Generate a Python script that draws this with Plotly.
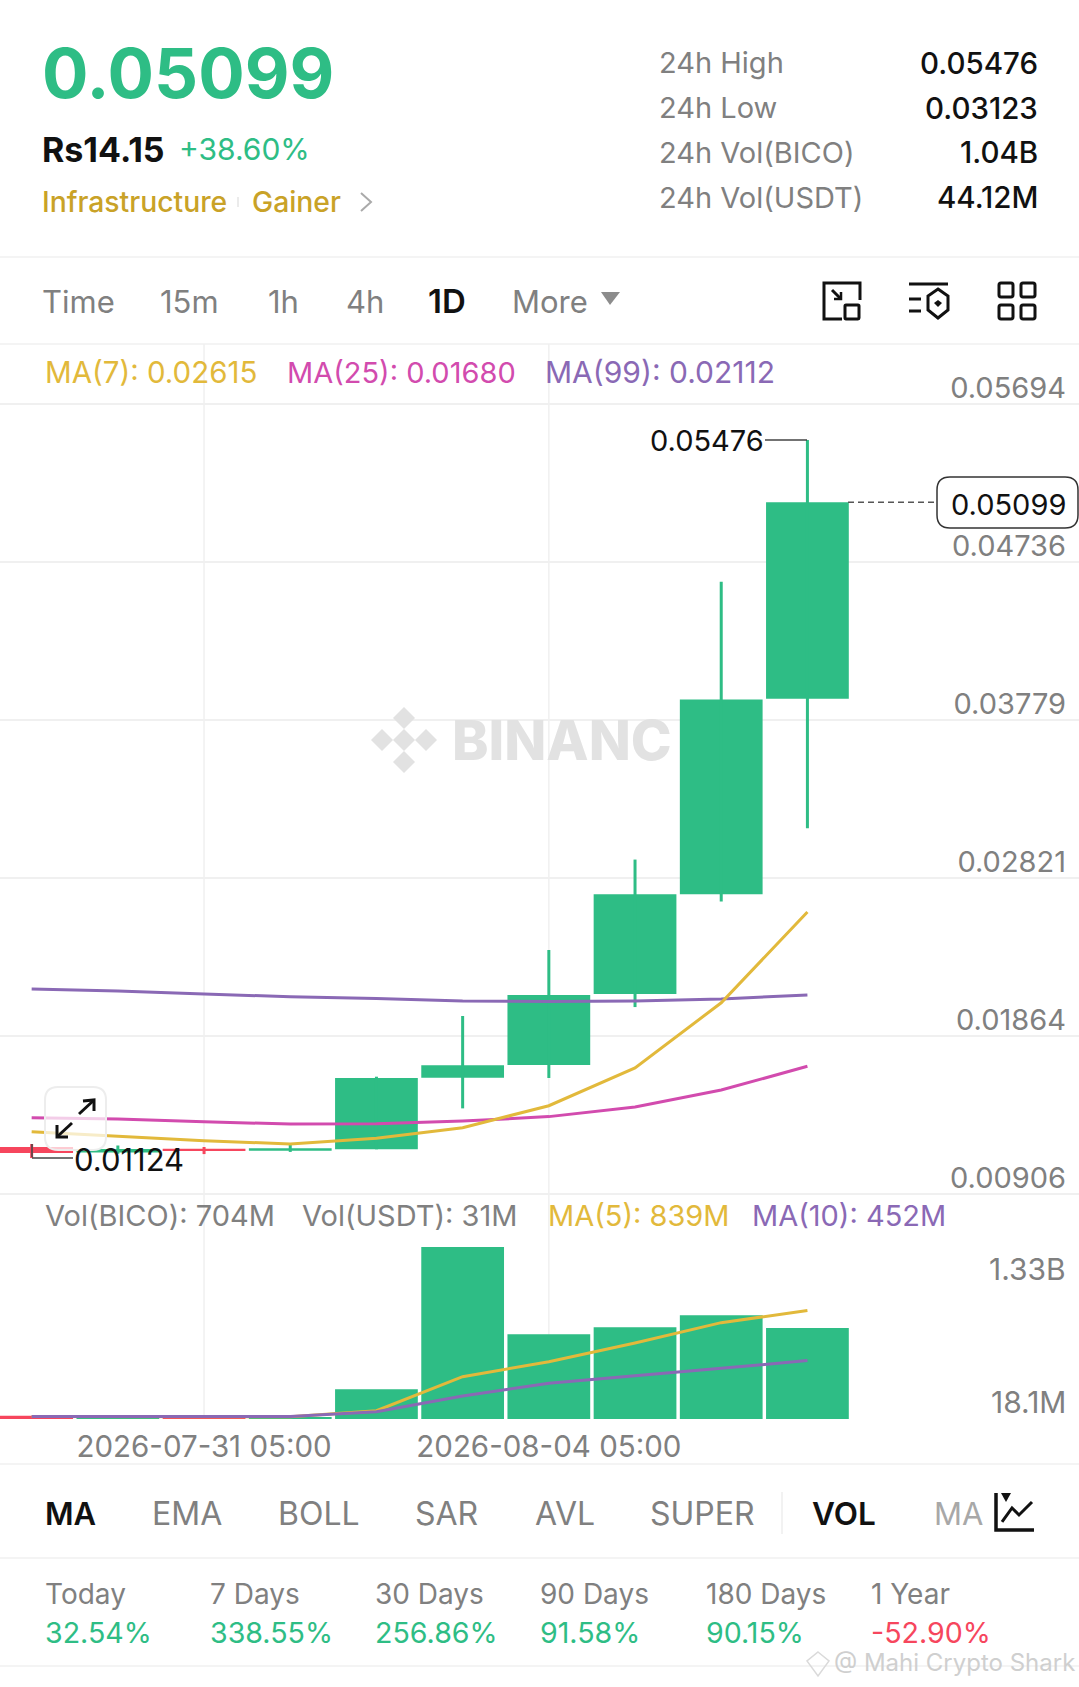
import plotly.graph_objects as go

W, H = 1079, 1687
FONT = "Inter"

GREEN = "#2EBD85"
RED = "#F6465D"
YELLOW = "#E2B93B"
PINK = "#D24BAE"
PURPLE = "#8A69B5"
GRAY = "#808080"
GRID = "#F0F0F0"
BLACK = "#111111"

# candle data
dates = ["2026-07-29 05:00", "2026-07-30 05:00", "2026-07-31 05:00", "2026-08-01 05:00",
         "2026-08-02 05:00", "2026-08-03 05:00", "2026-08-04 05:00", "2026-08-05 05:00",
         "2026-08-06 05:00", "2026-08-07 05:00"]
opens = [0.01191, 0.01157, 0.01180, 0.01168, 0.01177, 0.01611, 0.01688, 0.02118, 0.02723, 0.03908]
highs = [0.01209, 0.01200, 0.01191, 0.01203, 0.01617, 0.01985, 0.02385, 0.02933, 0.04617, 0.05476]
lows = [0.01124, 0.01150, 0.01148, 0.01161, 0.01177, 0.01425, 0.01609, 0.02039, 0.02679, 0.03123]
closes = [0.01155, 0.01179, 0.01168, 0.01183, 0.01609, 0.01686, 0.02112, 0.02723, 0.03904, 0.05099]

ma7 = [0.01284, 0.01258, 0.01229, 0.01209, 0.01244, 0.01308, 0.01441, 0.01670, 0.02065, 0.02615]
ma25 = [0.01368, 0.01361, 0.01344, 0.01330, 0.01332, 0.01348, 0.01375, 0.01433, 0.01536, 0.01680]
ma99 = [0.02148, 0.02136, 0.02118, 0.02102, 0.02091, 0.02076, 0.02073, 0.02076, 0.02088, 0.02112]

volumes = [25e6, 18e6, 10e6, 8e6, 230e6, 1330e6, 655e6, 709e6, 802e6, 704e6]
vol_ma5 = [20e6, 20e6, 18e6, 18e6, 64e6, 327e6, 443e6, 588e6, 745e6, 839e6]
vol_ma10 = [20e6, 20e6, 20e6, 20e6, 56e6, 178e6, 276e6, 332e6, 392e6, 452e6]

price_ticks = [0.00906, 0.01864, 0.02821, 0.03779, 0.04736, 0.05694]
price_labels = ["0.00906", "0.01864", "0.02821", "0.03779", "0.04736", "0.05694"]
date_ticks = ["2026-07-31 05:00", "2026-08-04 05:00"]

stats = [("24h High", "0.05476"), ("24h Low", "0.03123"),
         ("24h Vol(BICO)", "1.04B"), ("24h Vol(USDT)", "44.12M")]
periods = ["Today", "7 Days", "30 Days", "90 Days", "180 Days", "1 Year"]
period_changes = ["32.54%", "338.55%", "256.86%", "91.58%", "90.15%", "-52.90%"]


def px(x):
    return x / W


def py(y):
    return 1 - y / H


candle_colors = [GREEN if c >= o else RED for o, c in zip(opens, closes)]
body_base = [min(o, c) for o, c in zip(opens, closes)]
body_size = [abs(c - o) for o, c in zip(opens, closes)]
day_ms = 86400000

fig = go.Figure()

# wicks first, bodies on top, moving averages over both
for d, lo, hi, color in zip(dates, lows, highs, candle_colors):
    fig.add_trace(go.Scatter(x=[d, d], y=[lo, hi], mode="lines", yaxis="y", xaxis="x",
                             line=dict(color=color, width=3), showlegend=False))
fig.add_trace(go.Bar(x=dates, y=body_size, base=body_base, width=day_ms * 0.96, yaxis="y", xaxis="x",
                     marker=dict(color=candle_colors, line=dict(width=0)), showlegend=False))
for vals, color in [(ma99, PURPLE), (ma25, PINK), (ma7, YELLOW)]:
    fig.add_trace(go.Scatter(x=dates, y=vals, mode="lines", yaxis="y", xaxis="x",
                             line=dict(color=color, width=3), showlegend=False))

fig.add_trace(go.Bar(x=dates, y=volumes, marker=dict(color=candle_colors, line=dict(width=0)),
                     width=day_ms * 0.96, yaxis="y2", xaxis="x", showlegend=False))
for vals, color in [(vol_ma5, YELLOW), (vol_ma10, PURPLE)]:
    fig.add_trace(go.Scatter(x=dates, y=vals, mode="lines", yaxis="y2", xaxis="x",
                             line=dict(color=color, width=3), showlegend=False))

annotations = []


def text(x, y, s, size=28, color=GRAY, anchor="left", weight=400):
    # annotation boxes carry a little padding, pull it back out
    x = x - 2.5 if anchor == "left" else x + 2.5
    annotations.append(dict(x=px(x), y=py(y), xref="paper", yref="paper", text=s, showarrow=False,
                            xanchor=anchor, yanchor="middle", align=anchor,
                            font=dict(family=FONT, size=size, color=color, weight=weight)))


# header
text(42, 73, "0.05099", 69, GREEN, weight=700)
text(42, 149, "Rs14.15", 34, BLACK, weight=700)
text(179, 149, "+38.60%", 30, GREEN)
text(42, 202, "Infrastructure", 28.3, "#C9A227", weight=500)
text(252, 202, "Gainer", 28.3, "#C9A227", weight=500)
for (label, value), y in zip(stats, [63, 108, 152, 197]):
    text(659, y, label, 29, GRAY)
    text(1037, y, value, 29.5, BLACK, anchor="right", weight=500)

# interval tabs
for label, x in [("Time", 42), ("15m", 160), ("1h", 268), ("4h", 346), ("More", 512)]:
    text(x, 301, label, 31, GRAY)
text(428, 301, "1D", 33, BLACK, weight=600)

# indicator read-outs
text(45, 372, "MA(7): 0.02615", 29.5, YELLOW)
text(287, 372, "MA(25): 0.01680", 29, PINK)
text(545, 372, "MA(99): 0.02112", 30, PURPLE)
text(45, 1215, "Vol(BICO): 704M", 29, GRAY)
text(302, 1215, "Vol(USDT): 31M", 29, GRAY)
text(548, 1215, "MA(5): 839M", 29, YELLOW)
text(752, 1215, "MA(10): 452M", 29, PURPLE)

# chart labels
text(763, 441, "0.05476", 29, BLACK, anchor="right")
text(74, 1159, "0.01124", 31, BLACK)
text(1065, 504, "0.05099", 29, BLACK, anchor="right")
text(1065, 1269, "1.33B", 30, GRAY, anchor="right")
text(1065, 1402, "18.1M", 30, GRAY, anchor="right")
text(452, 740, "BINANC", 55, "#E2E2E2", weight=800)

# indicator tabs
text(45, 1513, "MA", 31, BLACK, weight=600)
for label, x in [("EMA", 152), ("BOLL", 278), ("SAR", 415), ("AVL", 535), ("SUPER", 650)]:
    text(x, 1513, label, 32, GRAY)
text(812, 1513, "VOL", 31.5, BLACK, weight=600)
text(934, 1513, "MA", 31, "#A8A8A8")

# period changes
for label, value, x in zip(periods, period_changes, [45, 210, 375, 540, 706, 871]):
    text(x, 1594, label, 28, GRAY)
    text(x, 1632, value, 28.6, RED if value.startswith("-") else GREEN)

text(834, 1662, "@ Mahi Crypto Shark", 24, "#CFCFCF")

shapes = []


def hline(y, color=GRID, x0=0, x1=W, width=1.5):
    shapes.append(dict(type="line", xref="paper", yref="paper", x0=px(x0), x1=px(x1),
                       y0=py(y), y1=py(y), line=dict(color=color, width=width), layer="below"))


def path(points, color=None, fill=None, width=3, close=False, layer="above"):
    d = "M " + " L ".join(f"{px(x):.5f},{py(y):.5f}" for x, y in points) + (" Z" if close else "")
    shapes.append(dict(type="path", path=d, xref="paper", yref="paper", layer=layer,
                       line=dict(color=color or "rgba(0,0,0,0)", width=width if color else 0),
                       fillcolor=fill or "rgba(0,0,0,0)"))


def rrect(x0, y0, x1, y1, r, color, fill="rgba(0,0,0,0)", width=2):
    fx = lambda v: f"{px(v):.5f}"
    fy = lambda v: f"{py(v):.5f}"
    d = (f"M {fx(x0 + r)},{fy(y0)} L {fx(x1 - r)},{fy(y0)} Q {fx(x1)},{fy(y0)} {fx(x1)},{fy(y0 + r)} "
         f"L {fx(x1)},{fy(y1 - r)} Q {fx(x1)},{fy(y1)} {fx(x1 - r)},{fy(y1)} "
         f"L {fx(x0 + r)},{fy(y1)} Q {fx(x0)},{fy(y1)} {fx(x0)},{fy(y1 - r)} "
         f"L {fx(x0)},{fy(y0 + r)} Q {fx(x0)},{fy(y0)} {fx(x0 + r)},{fy(y0)} Z")
    shapes.append(dict(type="path", path=d, xref="paper", yref="paper", layer="above",
                       line=dict(color=color, width=width), fillcolor=fill))


# section rules
for y in [257, 344, 1464, 1558, 1666]:
    hline(y)
shapes.append(dict(type="line", xref="paper", yref="paper", x0=px(782), x1=px(782),
                   y0=py(1492), y1=py(1534), line=dict(color="#EEEEEE", width=1.5)))

# vertical grid through price and volume panes
for d in date_ticks:
    shapes.append(dict(type="line", xref="x", yref="paper", x0=d, x1=d, y0=py(344), y1=py(1419),
                       line=dict(color=GRID, width=1.5), layer="below"))

# price call-outs
shapes.append(dict(type="line", xref="paper", yref="y", x0=px(765), x1=px(807), y0=0.05476, y1=0.05476,
                   line=dict(color="#444444", width=1.5)))
shapes.append(dict(type="line", xref="paper", yref="y", x0=px(32), x1=px(73), y0=0.01124, y1=0.01124,
                   line=dict(color="#444444", width=1.5)))
shapes.append(dict(type="line", xref="paper", yref="y", x0=px(848), x1=px(936), y0=0.05099, y1=0.05099,
                   line=dict(color="#555555", width=1.5, dash="6px,4px")))
rrect(937, 477, 1078, 528, 13, "#333333", "#FFFFFF", 1.5)

# chevron and dropdown triangle
path([(361, 193), (371, 202), (361, 211)], "#AAAAAA", width=2)
path([(601, 292), (620, 292), (610, 305)], fill="#8C8C8C", close=True)
path([(238, 197), (238, 207)], "#E5E5E5", width=1.5)

# toolbar icons
path([(844, 283), (860, 283), (860, 300)], BLACK, width=3)
path([(844, 283), (824, 283), (824, 319), (842, 319)], BLACK, width=3)
rrect(845, 305, 859, 319, 1, BLACK, width=3)
path([(832, 290), (840, 298)], BLACK, width=3)
path([(841, 292), (841, 299), (834, 299)], BLACK, width=2.5)
path([(909, 284), (948, 284)], BLACK, width=3)
path([(909, 299), (921, 299)], BLACK, width=3)
path([(909, 311), (921, 311)], BLACK, width=3)
path([(938, 289), (948, 296), (948, 310), (938, 318), (928, 310), (928, 296)], BLACK, width=3, close=True)
path([(938, 300), (942, 303), (938, 307), (934, 303)], fill=BLACK, close=True)
for x0, y0 in [(999, 283), (1021, 283), (999, 305), (1021, 305)]:
    rrect(x0, y0, x0 + 14, y0 + 14, 2, BLACK, width=3)

# expand button over the chart
rrect(45, 1087, 106, 1150, 13, "#EDEDED", "rgba(255,255,255,0.72)", 2)
path([(79, 1114), (93, 1101)], BLACK, width=3)
path([(83, 1101), (94, 1100), (94, 1111)], BLACK, width=3)
path([(72, 1123), (58, 1136)], BLACK, width=3)
path([(57, 1125), (57, 1137), (68, 1137)], BLACK, width=3)
path([(32, 1144), (32, 1157)], "#444444", width=1.5)

# indicator settings icon
path([(996, 1493), (996, 1530), (1034, 1530)], BLACK, width=3.5)
path([(1002, 1522), (1012, 1508), (1019, 1515), (1032, 1502)], BLACK, width=3)
path([(1001, 1493), (1011, 1493), (1006, 1502)], fill=BLACK, close=True)

# watermark logo
cx, cy = 404, 740
for dx, dy, s in [(0, 0, 11), (0, -22, 11), (0, 22, 11), (-22, 0, 11), (22, 0, 11)]:
    path([(cx + dx, cy + dy - s), (cx + dx + s, cy + dy), (cx + dx, cy + dy + s), (cx + dx - s, cy + dy)],
         fill="#E2E2E2", close=True)
path([(818, 1652), (829, 1661), (818, 1676), (807, 1661)], "#DADADA", width=1.5, close=True)

fig.update_layout(
    width=W, height=H,
    margin=dict(l=0, r=0, t=0, b=0),
    paper_bgcolor="#FFFFFF", plot_bgcolor="#FFFFFF",
    barmode="overlay",
    font=dict(family=FONT),
    showlegend=False,
    xaxis=dict(
        domain=[0, 1], anchor="y2", type="date",
        range=["2026-07-28 20:11", "2026-08-10 08:37"],
        showgrid=False, zeroline=False, showline=False, ticks="",
        tickmode="array", tickvals=date_ticks, ticktext=date_ticks,
        tickfont=dict(family=FONT, size=29.5, color=GRAY),
        ticklabelstandoff=7,
    ),
    # range runs past the first and last ticks so their labels stay inside the pane
    yaxis=dict(
        domain=[py(1204), py(344)], anchor="x", side="right",
        range=[0.008454, 0.06058],
        tickmode="array", tickvals=price_ticks, ticktext=price_labels,
        ticklabelposition="inside top", ticklabelstandoff=10, ticklabelshift=4,
        tickfont=dict(family=FONT, size=29, color=GRAY),
        gridcolor=GRID, gridwidth=1.5, zeroline=False, showline=False, ticks="",
    ),
    yaxis2=dict(
        domain=[py(1419), py(1247)], anchor="x", side="right",
        range=[0, 1330e6],
        tickmode="array", tickvals=[0], showticklabels=False,
        gridcolor=GRID, gridwidth=1.5, zeroline=False, showline=False, ticks="",
    ),
    annotations=annotations,
    shapes=shapes,
)

fig.write_html("out.html", config={"displayModeBar": False},
               post_script="document.body.style.margin='0';")
